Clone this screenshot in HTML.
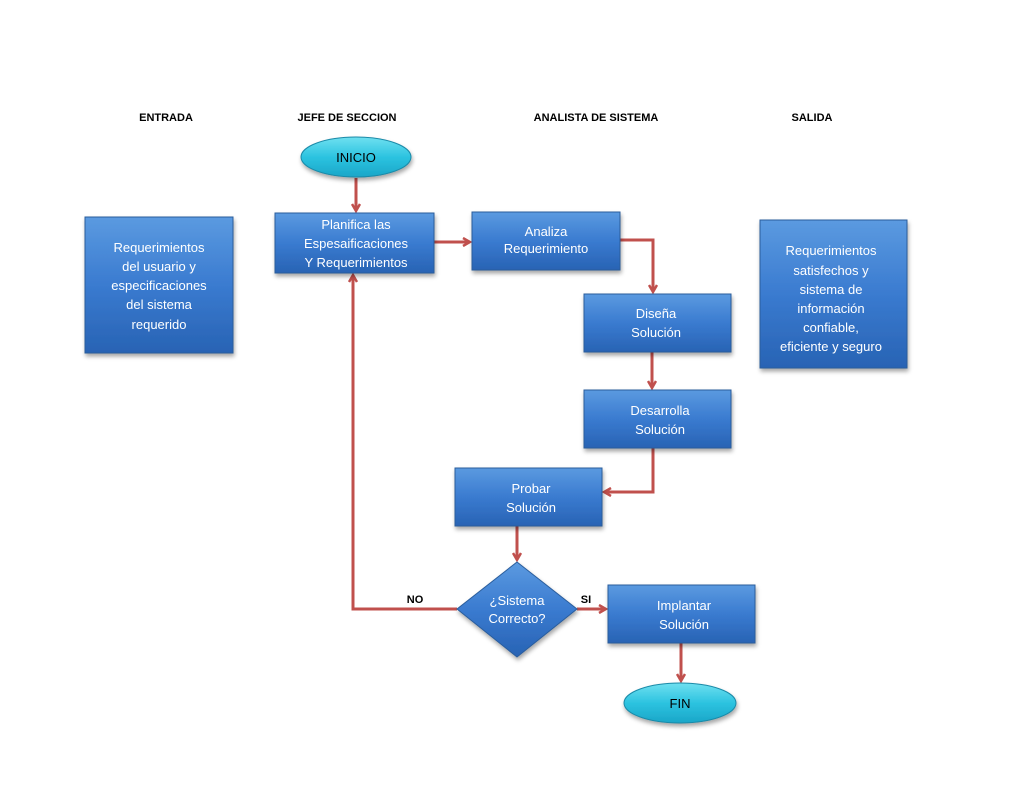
<!DOCTYPE html>
<html><head><meta charset="utf-8"><style>
body{margin:0;background:#fff;}
svg{display:block;font-family:"Liberation Sans",sans-serif;}
</style></head><body>
<svg width="1024" height="792" viewBox="0 0 1024 792" xmlns="http://www.w3.org/2000/svg">
<defs>
<linearGradient id="bx" x1="0" y1="0" x2="0" y2="1">
<stop offset="0" stop-color="#5b9ae0"/><stop offset="0.5" stop-color="#3a7bd0"/><stop offset="1" stop-color="#2863b4"/>
</linearGradient>
<linearGradient id="el" x1="0" y1="0" x2="0" y2="1">
<stop offset="0" stop-color="#6fe0f0"/><stop offset="0.5" stop-color="#2cc3e0"/><stop offset="1" stop-color="#1aa6c8"/>
</linearGradient>
<filter id="sh" x="-10%" y="-10%" width="130%" height="140%"><feDropShadow dx="1" dy="3" stdDeviation="2" flood-color="#000" flood-opacity="0.35"/></filter>
<marker id="ar" markerWidth="10" markerHeight="10" refX="8" refY="5" orient="auto" markerUnits="userSpaceOnUse">
<path d="M1,1 L8,5 L1,9" fill="none" stroke="#c0504d" stroke-width="2.5"/>
</marker>
</defs>
<g font-size="11" font-weight="bold" fill="#000" text-anchor="middle">
<text x="166" y="121">ENTRADA</text>
<text x="347" y="121">JEFE DE SECCION</text>
<text x="596" y="121">ANALISTA DE SISTEMA</text>
<text x="812" y="121">SALIDA</text>
<text x="415" y="603">NO</text>
<text x="586" y="603">SI</text>
</g>
<g stroke="#c0504d" stroke-width="3" fill="none">
<line x1="356" y1="178" x2="356" y2="211" marker-end="url(#ar)"/>
<line x1="434" y1="242" x2="470" y2="242" marker-end="url(#ar)"/>
<polyline points="620,240 653,240 653,292" marker-end="url(#ar)"/>
<line x1="652" y1="352" x2="652" y2="388" marker-end="url(#ar)"/>
<polyline points="653,448 653,492 604,492" marker-end="url(#ar)"/>
<line x1="517" y1="526" x2="517" y2="560" marker-end="url(#ar)"/>
<polyline points="457,609 353,609 353,275" marker-end="url(#ar)"/>
<line x1="577" y1="609" x2="606" y2="609" marker-end="url(#ar)"/>
<line x1="681" y1="643" x2="681" y2="681" marker-end="url(#ar)"/>
</g>
<g filter="url(#sh)" stroke="#2a5d9c" stroke-width="1">
<ellipse cx="356" cy="157" rx="55" ry="20" fill="url(#el)" stroke="#1a8aa8"/>
<ellipse cx="680" cy="703" rx="56" ry="20" fill="url(#el)" stroke="#1a8aa8"/>
<rect x="85" y="217" width="148" height="136" fill="url(#bx)"/>
<rect x="760" y="220" width="147" height="148" fill="url(#bx)"/>
<rect x="275" y="213" width="159" height="60" fill="url(#bx)"/>
<rect x="472" y="212" width="148" height="58" fill="url(#bx)"/>
<rect x="584" y="294" width="147" height="58" fill="url(#bx)"/>
<rect x="584" y="390" width="147" height="58" fill="url(#bx)"/>
<rect x="455" y="468" width="147" height="58" fill="url(#bx)"/>
<rect x="608" y="585" width="147" height="58" fill="url(#bx)"/>
<polygon points="517,562 577,609 517,657 457,609" fill="url(#bx)"/>
</g>
<g font-size="13" fill="#000" text-anchor="middle">
<text x="356" y="162">INICIO</text>
<text x="680" y="708">FIN</text>
</g>
<g font-size="13" fill="#fff" text-anchor="middle">
<text x="159" y="252">Requerimientos</text>
<text x="159" y="271">del usuario y</text>
<text x="159" y="290">especificaciones</text>
<text x="159" y="309">del sistema</text>
<text x="159" y="329">requerido</text>
<text x="831" y="255">Requerimientos</text>
<text x="831" y="275">satisfechos y</text>
<text x="831" y="294">sistema de</text>
<text x="831" y="313">información</text>
<text x="831" y="332">confiable,</text>
<text x="831" y="351">eficiente y seguro</text>
<text x="356" y="229">Planifica las</text>
<text x="356" y="248">Espesaificaciones</text>
<text x="356" y="267">Y Requerimientos</text>
<text x="546" y="236">Analiza</text>
<text x="546" y="253">Requerimiento</text>
<text x="656" y="318">Diseña</text>
<text x="656" y="337">Solución</text>
<text x="660" y="415">Desarrolla</text>
<text x="660" y="434">Solución</text>
<text x="531" y="493">Probar</text>
<text x="531" y="512">Solución</text>
<text x="517" y="605">¿Sistema</text>
<text x="517" y="623">Correcto?</text>
<text x="684" y="610">Implantar</text>
<text x="684" y="629">Solución</text>
</g>
</svg>
</body></html>
